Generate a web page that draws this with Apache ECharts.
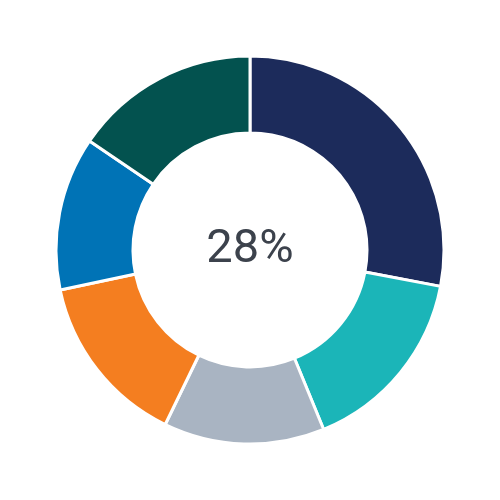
<!DOCTYPE html>
<html><head><meta charset="utf-8">
<script src="https://cdn.jsdelivr.net/npm/echarts@6/dist/echarts.min.js"></script>
<style>html,body{margin:0;padding:0;background:#fff}#c{width:500px;height:500px}</style>
</head><body><div id="c"></div>
<script>
const categories = ['A', 'B', 'C', 'D', 'E', 'F'];
const values = [28, 15.8, 13.4, 14.5, 12.8, 15.5];
const colors = ['#1c2b5b', '#1bb5b8', '#a9b4c2', '#f47e20', '#0073b6', '#03524f'];
const centerLabel = '28%';
const chart = echarts.init(document.getElementById('c'));
chart.setOption({
  animation: false,
  color: colors,
  graphic: [{
    type: 'text', left: 'center', top: 'middle',
    style: { text: centerLabel, font: '47px Roboto, "Open Sans", sans-serif', fill: '#3c424c', textAlign: 'center' }
  }],
  series: [{
    type: 'pie',
    center: ['50%', '50%'],
    radius: [117, 194],
    startAngle: 90,
    clockwise: true,
    label: { show: false },
    labelLine: { show: false },
    itemStyle: { borderColor: '#fff', borderWidth: 3 },
    emphasis: { disabled: true },
    data: categories.map((c, i) => ({ name: c, value: values[i] }))
  }]
});
</script></body></html>
